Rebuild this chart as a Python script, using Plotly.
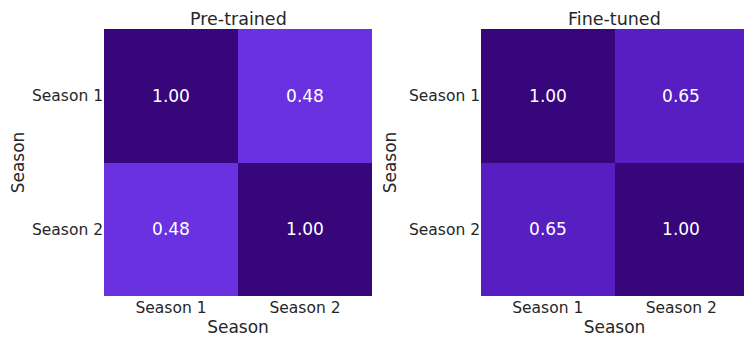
import plotly.graph_objects as go

seasons = ["Season 1", "Season 2"]
pretrained = [[1.00, 0.48], [0.48, 1.00]]
finetuned = [[1.00, 0.65], [0.65, 1.00]]
titles = ["Pre-trained", "Fine-tuned"]
axis_label = "Season"

# page has an 8px body margin; figure sized to fit the window
OFF = 8
W, H = 752 - OFF, 342 - OFF
zmin, zmax = 0.48, 1.00
cs = [[0.0, "#6931E0"], [(0.65 - zmin) / (zmax - zmin), "#571EC2"], [1.0, "#36067A"]]

fig = go.Figure()
FONT = "DejaVu Sans"
TXT = "#262626"
panels = [(pretrained, "x", "y", 104, 372), (finetuned, "x2", "y2", 481, 748)]
top, bottom = 29 - OFF, 296 - OFF
for i, (z, xa, ya, x0, x1) in enumerate(panels):
    x0 -= OFF
    x1 -= OFF
    fig.add_trace(go.Heatmap(
        z=z, x=seasons, y=seasons, xaxis=xa, yaxis=ya,
        colorscale=cs, zmin=zmin, zmax=zmax, showscale=False,
        text=[[f"{v:.2f}" for v in row] for row in z],
        texttemplate="%{text}", textfont=dict(color="white", size=17, family=FONT),
        hoverinfo="skip", xgap=0, ygap=0,
    ))
    sfx = "" if i == 0 else str(i + 1)
    fig.layout["xaxis" + sfx] = dict(
        domain=[x0 / W, x1 / W], anchor="y" + sfx,
        title=dict(text=axis_label, font=dict(size=17, family=FONT, color=TXT), standoff=5),
        tickfont=dict(size=15.5, family=FONT, color=TXT),
        showgrid=False, zeroline=False, showline=False, ticks="", ticklen=0,
    )
    fig.layout["yaxis" + sfx] = dict(
        domain=[1 - bottom / H, 1 - top / H], anchor="x" + sfx, autorange="reversed",
        title=dict(text=axis_label, font=dict(size=17, family=FONT, color=TXT), standoff=8),
        tickfont=dict(size=15.5, family=FONT, color=TXT),
        showgrid=False, zeroline=False, showline=False, ticks="", ticklen=0,
    )
    fig.add_annotation(
        text=titles[i], xref="paper", yref="paper",
        x=(x0 + x1) / 2 / W, y=1, xanchor="center", yanchor="top",
        showarrow=False, borderpad=0, font=dict(size=17.5, family=FONT, color=TXT),
    )

fig.update_layout(
    width=W, height=H, margin=dict(l=0, r=0, t=0, b=0),
    paper_bgcolor="white", plot_bgcolor="white",
)
fig.write_html("out.html")
